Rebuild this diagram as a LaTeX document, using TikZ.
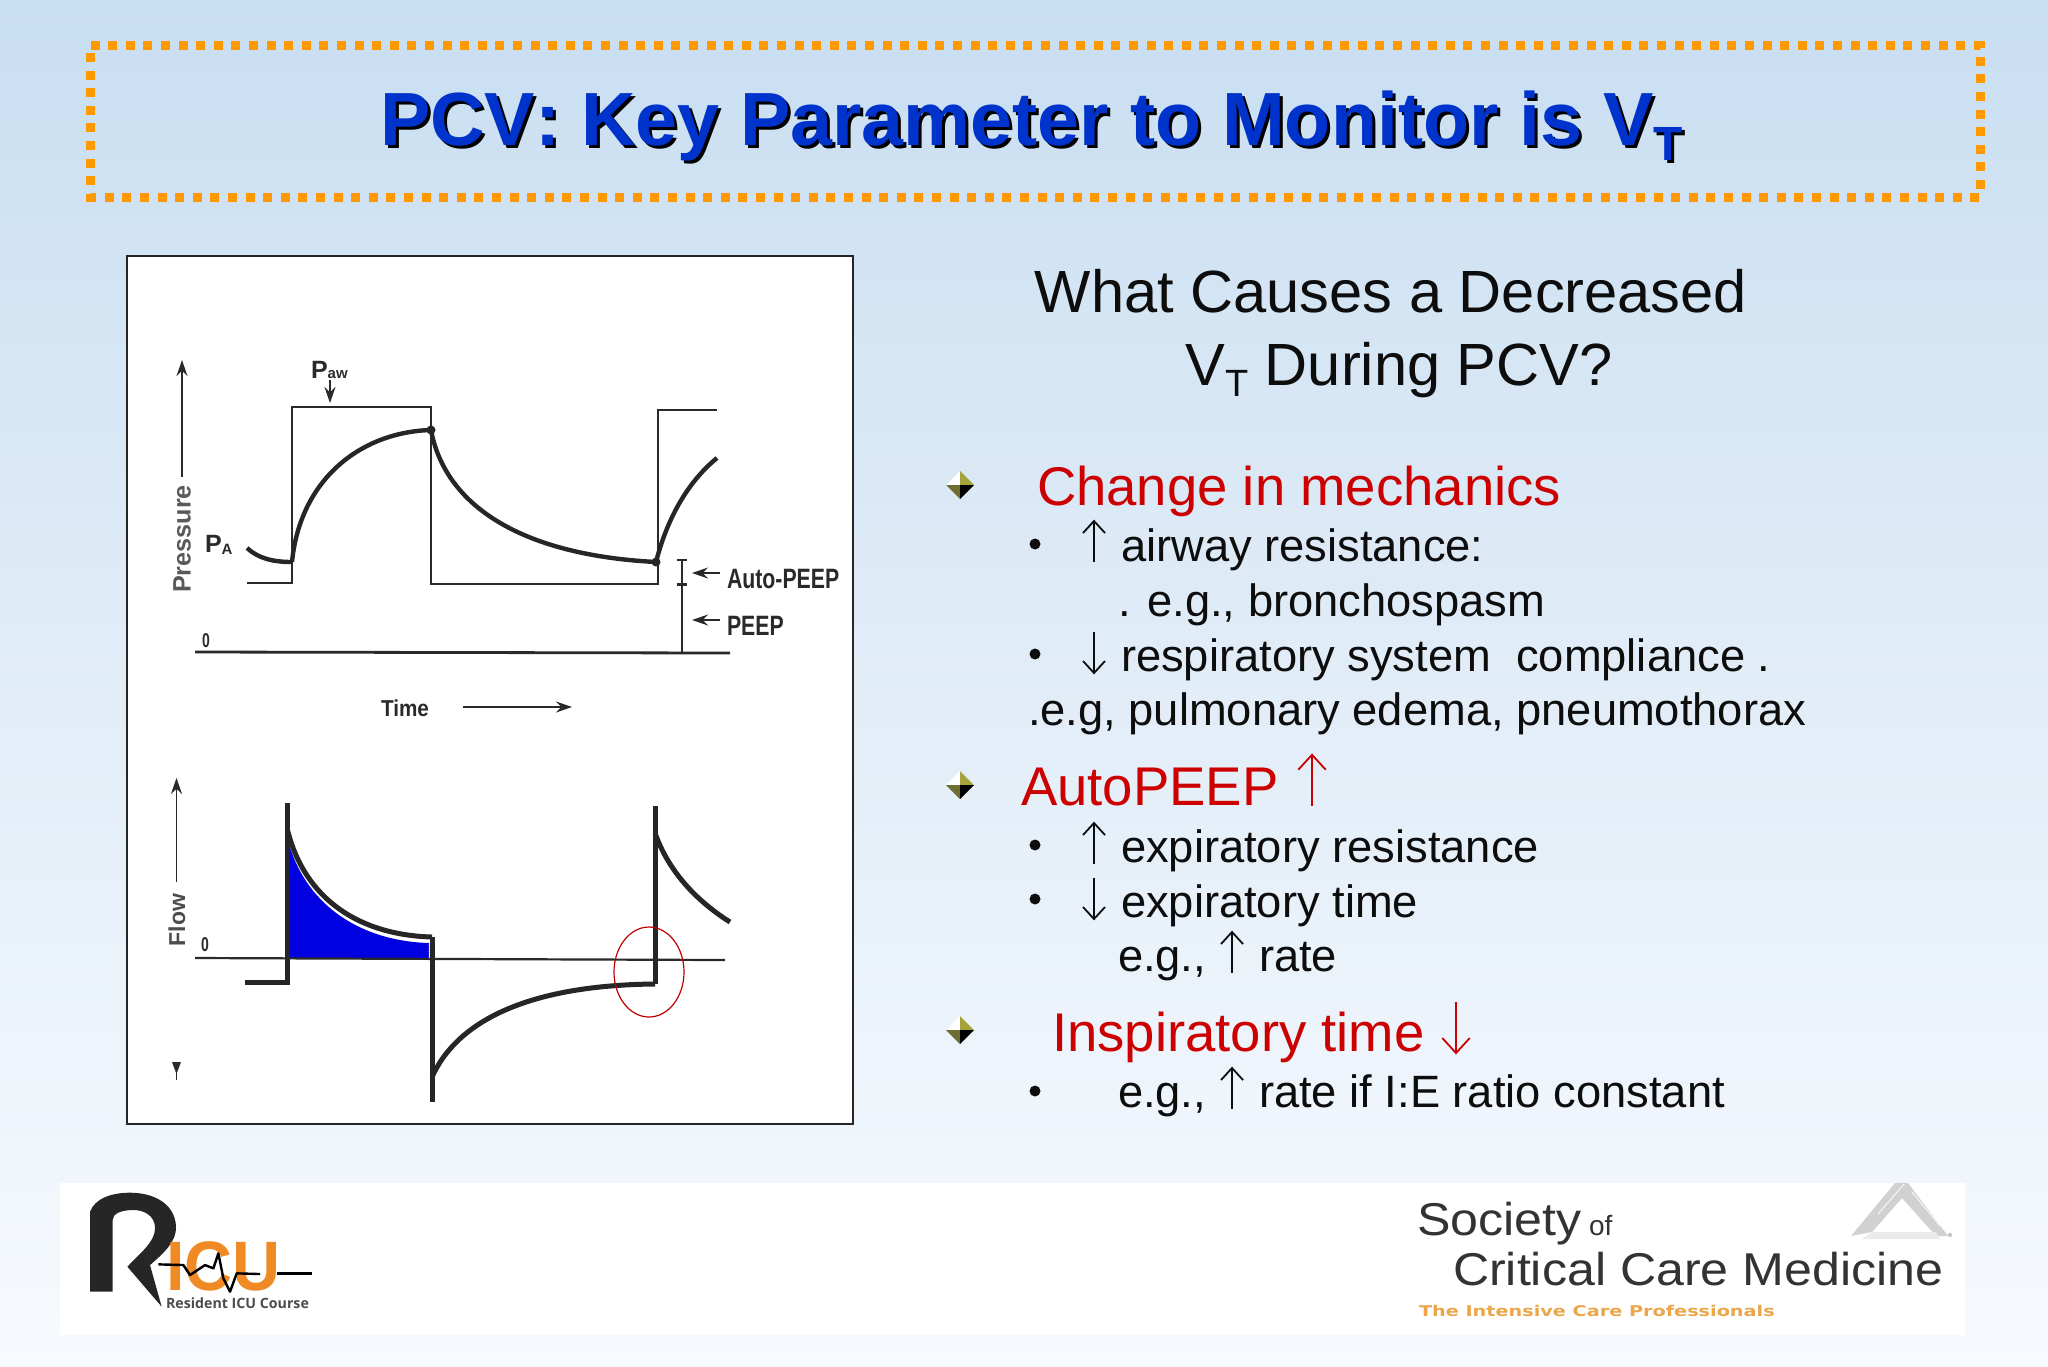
\documentclass[tikz,border=0pt]{standalone}
\usepackage{fontspec}
\setmainfont{Liberation Sans}
\newfontfamily\titlefont[Kerning=Off]{Liberation Sans}
\newfontfamily\dvbold{DejaVu Sans Bold}
\newfontfamily\opensans{Open Sans}
\usetikzlibrary{arrows.meta}
\definecolor{bgT}{HTML}{C8DEF2}
\definecolor{bgM}{HTML}{DDEAF6}
\definecolor{bgB}{HTML}{F7FAFE}
\definecolor{dashorange}{HTML}{FF9900}
\definecolor{titleblue}{HTML}{0033CC}
\definecolor{headred}{HTML}{CC0000}
\definecolor{ink}{HTML}{0D0D0D}
\definecolor{plotgray}{HTML}{2A2A2A}
\definecolor{logoorange}{HTML}{F08A24}
\definecolor{tagorange}{HTML}{EBA64A}
\definecolor{olive}{HTML}{A3A33A}
\definecolor{darkolive}{HTML}{6E6E33}
\pgfdeclareverticalshading{bgshade}{100bp}{color(0bp)=(bgB); color(25bp)=(bgB); color(55bp)=(bgM); color(75bp)=(bgT); color(100bp)=(bgT)}
\newcommand{\fs}[1]{\fontsize{#1}{#1}\selectfont}
\tikzset{
  x=0.5pt,y=-0.5pt,
  txt/.style={anchor=base west,inner sep=0pt,outer sep=0pt},
  ctxt/.style={anchor=base,inner sep=0pt,outer sep=0pt},
  redhead/.style={txt,font=\fs{27.25},text=headred},
  body/.style={txt,font=\fs{22.65},text=ink},
  dotbullet/.style={circle,fill=ink,inner sep=0pt,minimum size=5.5pt},
  plotlabel/.style={inner sep=0pt,outer sep=0pt,text=plotgray},
  thinline/.style={draw=plotgray,line width=0.9pt},
  thickcurve/.style={draw=black!85,line width=2.2pt,line join=round},
  flowcurve/.style={draw=black!85,line width=2.5pt,line join=miter},
  axistip/.style={-{Stealth[length=8pt,width=5.5pt]},draw=plotgray,line width=0.7pt},
  pics/upar/.style={code={
    \draw[line width=0.9pt] (0,0) -- (0,-41);
    \draw[line width=0.9pt] (-11,-29) -- (0,-41) -- (11,-29);}},
  pics/downar/.style={code={
    \draw[line width=0.9pt] (0,0) -- (0,-41);
    \draw[line width=0.9pt] (-11,-12) -- (0,0) -- (11,-12);}},
  pics/diamondbullet/.style={code={
    \fill[white] (0,-14) -- (-14,0) -- (0,0) -- cycle;
    \fill[olive] (0,-14) -- (14,0) -- (0,0) -- cycle;
    \fill[darkolive] (-14,0) -- (0,14) -- (0,0) -- cycle;
    \fill[black] (14,0) -- (0,14) -- (0,0) -- cycle;}},
}
\begin{document}
\begin{tikzpicture}
\useasboundingbox (0,0) rectangle (2048,1366);
\shade[shading=bgshade] (0,0) rectangle (2048,1366);

% title frame and title
\draw[dashorange,line width=4.5pt,dash pattern=on 4.5pt off 4.3pt] (90.5,45.5) -- (1980,45.5) -- (1980,197) -- (90.5,197) -- cycle;
\node[txt,font=\titlefont\fs{37.7}\bfseries,text=black] (titleshadow) at (383,148) {PCV: Key Parameter to Monitor is V\raisebox{-.2em}{\fs{24}T}};
\node[txt,font=\titlefont\fs{37.7}\bfseries,text=titleblue] (title) at (380,145) {PCV: Key Parameter to Monitor is V\raisebox{-.2em}{\fs{24}T}};

% figure frame
\draw[fill=white,draw=black!85,line width=1pt] (127,256) rectangle (853,1124);

% pressure plot
\draw[thinline] (247,583) -- (292,583) -- (292,407) -- (431,407) -- (431,584) -- (658,584) -- (658,410) -- (717,410);
\draw[thickcurve] (247,548) .. controls (258,558) and (272,562) .. (292,562);
\draw[thickcurve] (292,562) .. controls (300,480) and (360,432) .. (431,430);
\draw[thickcurve] (431,430) .. controls (445,505) and (520,555) .. (656,562);
\draw[thickcurve] (656,562) .. controls (668,515) and (690,480) .. (717,458);
\fill[black!85] (431,430) circle (4.5); \fill[black!85] (656,562) circle (4.5);
\draw[axistip] (182,477) -- (182,360);
\draw[draw=plotgray,line width=1.4pt] (195,652) -- (730,653);
\draw[thinline] (682,652) -- (682,560);
\draw[thinline] (677,560) -- (687,560);
\draw[thinline,line width=1.5pt] (677,584) -- (687,584);
\draw[axistip] (720,573) -- (692,573);
\draw[axistip] (720,620) -- (692,620);
\draw[axistip] (330,380) -- (330,403);
\node[plotlabel,font=\fs{12.6}\bfseries,rotate=90,text=black!65] (pressurelabel) at (182,539) {Pressure};
\node[plotlabel,anchor=base west] (pawlabel) at (311,378) {\fs{12.5}\bfseries P\fs{7.5}aw};
\node[plotlabel,anchor=base west] (palabel) at (205,552) {\fs{12.5}\bfseries P\raisebox{-1pt}{\fs{7.5}A}};
\node[plotlabel,anchor=base west,font=\fs{14}\bfseries] (autopeeplabel) at (727,588) {\scalebox{.76}[1]{Auto-PEEP}};
\node[plotlabel,anchor=base west,font=\fs{14}\bfseries] (peeplabel) at (727,635) {\scalebox{.76}[1]{PEEP}};
\node[plotlabel,anchor=base,font=\fs{10}\bfseries] (zeroa) at (206,647) {\scalebox{.7}[1]{0}};
\node[plotlabel,anchor=base west,font=\fs{11.5}\bfseries] (timelabel) at (381,716) {\scalebox{.9}[1]{Time}};
\draw[axistip] (463,707) -- (572,707);

% flow plot
\fill[blue!88!black] (290,847) .. controls (308,905) and (360,941) .. (429,943) -- (429,958) -- (290,958) -- cycle;
\draw[white,line width=0.5pt,densely dotted] (292,845) .. controls (310,903) and (360,939) .. (429,941) -- (429,958);
\draw[draw=plotgray,line width=1.1pt] (195,958) -- (725,960);
\draw[flowcurve] (245,982) -- (287.5,982) -- (287.5,803);
\draw[flowcurve] (287.5,830) .. controls (305,900) and (360,935) .. (432,937);
\draw[flowcurve] (432,937) -- (432,1102);
\draw[flowcurve] (432,1077) .. controls (460,1015) and (540,985) .. (655,984);
\draw[flowcurve] (655,984) -- (655,806);
\draw[flowcurve] (655,833) .. controls (668,870) and (695,900) .. (730,922);
\draw[axistip] (176.5,882) -- (176.5,778);
\draw[draw=plotgray,line width=0.7pt] (176.5,1068) -- (176.5,1080);
\fill[plotgray] (172,1062) -- (181,1062) -- (176.5,1074) -- cycle;
\node[plotlabel,font=\fs{11.5}\bfseries,rotate=90,text=black!70] (flowlabel) at (177,920) {Flow};
\node[plotlabel,anchor=base,font=\fs{10}\bfseries] (zerob) at (205,951) {\scalebox{.7}[1]{0}};
\draw[draw=red!75!black,line width=0.6pt] (649,972) ellipse [x radius=35,y radius=45];

% right text
\node[ctxt,font=\fs{29.8},text=ink] (qa) at (1391,312) {What Causes a Decreased};
\node[ctxt,font=\fs{29.8},text=ink] (qb) at (1399,385) {V\raisebox{-.2em}{\fs{19}T} During PCV?};

\pic at (960,485) {diamondbullet};
\pic at (960,785) {diamondbullet};
\pic at (960,1030) {diamondbullet};

\node[redhead] (h1) at (1037,505) {Change in mechanics};
\node[dotbullet] (b1) at (1035,544) {};
\pic[ink] at (1094,562) {upar};
\node[body] (t1) at (1121,561) {airway resistance:};
\node[body] (t2) at (1118,616) {. e.g., bronchospasm};
\node[dotbullet] (b2) at (1035,654) {};
\pic[ink] at (1094,673) {downar};
\node[body] (t3) at (1121,671) {respiratory system\ \ compliance .};
\node[body] (t4) at (1028,725) {.e.g, pulmonary edema, pneumothorax};

\node[redhead] (h2) at (1021,805) {AutoPEEP};
\pic[headred,scale=1.25] at (1312,806) {upar};
\node[dotbullet] (b3) at (1035,845) {};
\pic[ink] at (1094,864) {upar};
\node[body] (t5) at (1121,862) {expiratory resistance};
\node[dotbullet] (b4) at (1035,899) {};
\pic[ink] at (1094,919) {downar};
\node[body] (t6) at (1121,917) {expiratory time};
\node[body] (t7) at (1118,971) {e.g.,};
\pic[ink] at (1232,973) {upar};
\node[body] (t8) at (1259,971) {rate};

\node[redhead] (h3) at (1052,1051) {Inspiratory time};
\pic[headred,scale=1.25] at (1456,1053) {downar};
\node[dotbullet] (b5) at (1035,1091) {};
\node[body] (t9) at (1118,1107) {e.g.,};
\pic[ink] at (1232,1109) {upar};
\node[body] (t10) at (1259,1107) {rate if I:E ratio constant};

% logo strip
\fill[white] (60,1183) rectangle (1965,1335);

% RICU logo
\begin{scope}[shift={(40,1170)},x=0.1667pt,y=-0.1667pt]
\fill[black!85] (150,365) -- (150,125) .. controls (165,85) and (215,68) .. (270,68)
  .. controls (340,68) and (405,100) .. (408,170)
  .. controls (410,215) and (370,250) .. (330,285)
  -- (365,410) -- (262,290)
  .. controls (300,250) and (345,215) .. (345,175)
  .. controls (345,135) and (310,120) .. (280,120)
  .. controls (245,120) and (218,130) .. (218,150)
  -- (218,365) -- cycle;
\end{scope}
\node[txt,font=\fs{35}\bfseries,text=logoorange] (icu) at (166,1290) {\scalebox{.95}[1]{ICU}};
\begin{scope}[shift={(40,1170)},x=0.1667pt,y=-0.1667pt]
\draw[black,line width=1.2pt,line join=round] (355,283) -- (430,285) -- (450,315) -- (495,285) -- (520,295) -- (535,250) -- (550,325) -- (570,365) -- (590,310) -- (660,312);
\draw[black,line width=1.5pt] (710,310) -- (815,310);
\end{scope}
\node[txt,font=\opensans\fs{7.1},text=black!70] (ricutext) at (166,1308) {\textbf{Resident ICU Course}};

% SCCM logo
\node[txt,font=\fs{23},text=black!80] (society) at (1417,1235) {\scalebox{1.09}[1]{Society}};
\node[txt,font=\fs{14},text=black!80] (of) at (1589,1235) {of};
\node[txt,font=\fs{23},text=black!80] (ccm) at (1453,1285) {\scalebox{1.09}[1]{Critical Care Medicine}};
\node[txt,font=\dvbold\fs{7.4},text=tagorange] (tag) at (1419,1316) {\scalebox{1.3}[1]{The Intensive Care Professionals}};
\fill[black!18] (1851,1236) -- (1895,1183) -- (1908,1183) -- (1948,1236) -- (1936,1236) -- (1902,1198) -- (1872,1232) -- cycle;
\fill[black!8] (1872,1232) -- (1936,1232) -- (1940,1239) -- (1862,1239) -- cycle;
\draw[white,line width=0.4pt] (1878,1214) -- (1904,1184);
\draw[white,line width=0.4pt] (1912,1192) -- (1940,1226);
\fill[black!25] (1950,1235) circle (2);
\end{tikzpicture}
\end{document}
